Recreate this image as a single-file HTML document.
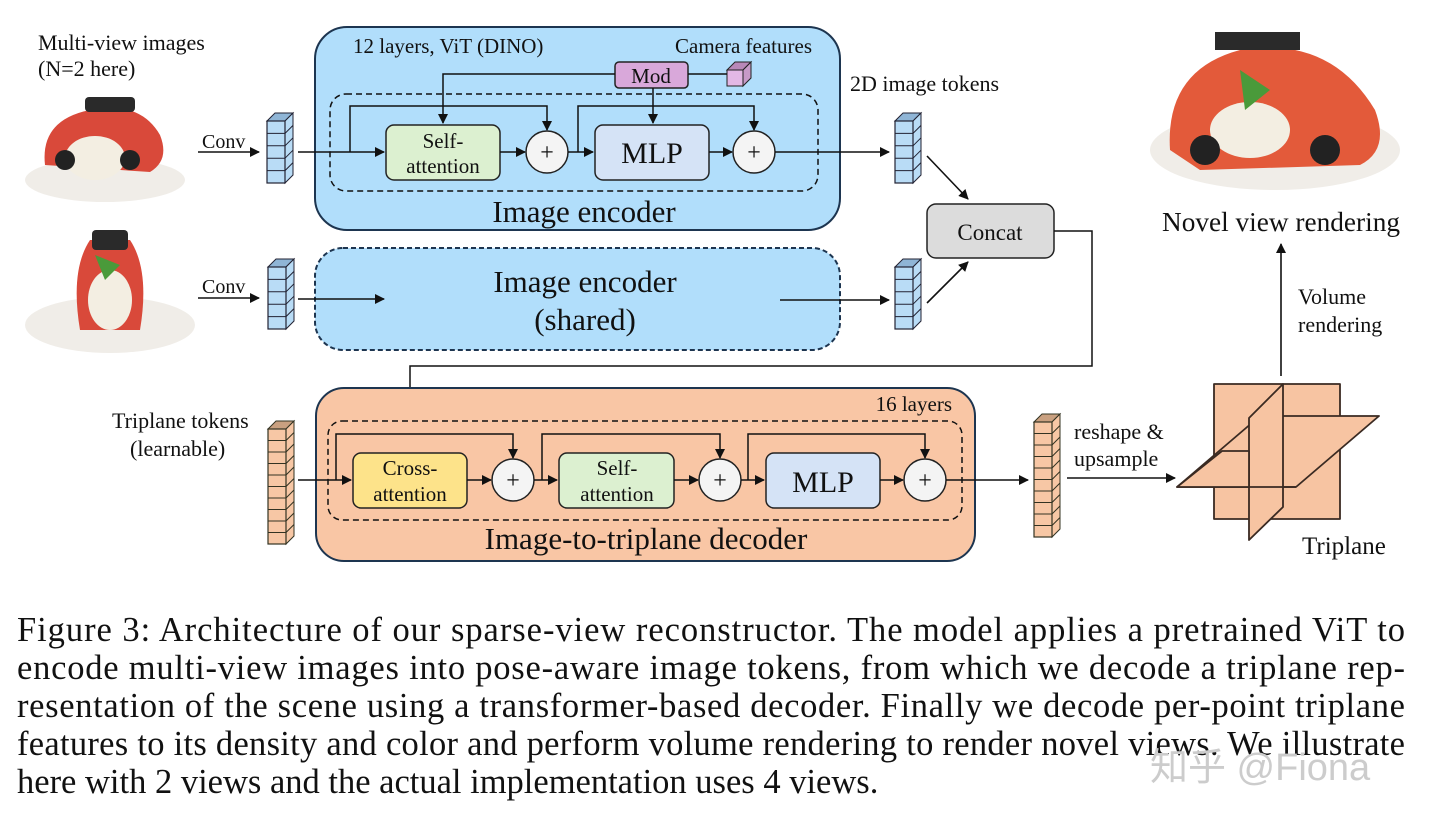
<!DOCTYPE html>
<html><head><meta charset="utf-8"><style>
html,body{margin:0;padding:0;background:#fff;width:1440px;height:826px;overflow:hidden}
svg text{font-family:"Liberation Serif",serif;fill:#111}
</style></head><body>
<svg width="1440" height="826" viewBox="0 0 1440 826" xmlns="http://www.w3.org/2000/svg">
<defs>
<marker id="a" markerWidth="10" markerHeight="10" refX="9" refY="5" orient="auto" markerUnits="userSpaceOnUse"><path d="M0,0 L10,5 L0,10 z" fill="#111"/></marker>
<g id="tok5">
 <path d="M0,0 l8,-8 h18 l-8,8 z" fill="#8fb5d6" stroke="#223" stroke-width="1"/>
 <path d="M18,0 l8,-8 v62 l-8,8 z" fill="#b9dcf6" stroke="#223" stroke-width="1"/>
 <rect x="0" y="0" width="18" height="62" fill="#b9dcf6" stroke="#223" stroke-width="1.2"/>
 <path d="M0,12.4h18M0,24.8h18M0,37.2h18M0,49.6h18M18,12.4l8,-8M18,24.8l8,-8M18,37.2l8,-8M18,49.6l8,-8" stroke="#223" fill="none"/>
</g>
<g id="tok10">
 <path d="M0,0 l8,-8 h18 l-8,8 z" fill="#c9a080" stroke="#332" stroke-width="1"/>
 <path d="M18,0 l8,-8 v115 l-8,8 z" fill="#f7c7a5" stroke="#332" stroke-width="1"/>
 <rect x="0" y="0" width="18" height="115" fill="#f7c7a5" stroke="#332" stroke-width="1.2"/>
 <path d="M0,11.5h18M0,23h18M0,34.5h18M0,46h18M0,57.5h18M0,69h18M0,80.5h18M0,92h18M0,103.5h18M18,11.5l8,-8M18,23l8,-8M18,34.5l8,-8M18,46l8,-8M18,57.5l8,-8M18,69l8,-8M18,80.5l8,-8M18,92l8,-8M18,103.5l8,-8" stroke="#332" fill="none"/>
</g>
</defs>

<text x="38" y="50" font-size="22">Multi-view images</text>
<text x="38" y="76" font-size="22">(N=2 here)</text>
<ellipse cx="105" cy="180" rx="80" ry="22" fill="#f0ede8"/>
<path d="M45,165 Q40,120 90,110 Q140,100 160,135 Q170,160 150,172 Z" fill="#d9493a"/>
<ellipse cx="95" cy="158" rx="30" ry="22" fill="#f3eee2"/>
<rect x="85" y="97" width="50" height="15" rx="4" fill="#2a2a2a"/>
<circle cx="65" cy="160" r="10" fill="#222"/><circle cx="130" cy="160" r="10" fill="#222"/>
<ellipse cx="110" cy="325" rx="85" ry="28" fill="#f0ede8"/>
<path d="M80,330 Q70,270 90,240 L130,240 Q150,270 140,330 Z" fill="#d9493a"/>
<ellipse cx="110" cy="300" rx="22" ry="30" fill="#f3eee2"/>
<rect x="92" y="230" width="36" height="20" rx="4" fill="#2a2a2a"/>
<path d="M95,255 l25,10 l-15,15 z" fill="#4a9a3a"/>
<ellipse cx="1275" cy="150" rx="125" ry="40" fill="#f0ede8"/>
<path d="M1170,150 Q1165,70 1240,50 Q1330,35 1375,110 Q1390,150 1360,165 L1200,170 Z" fill="#e35a3a"/>
<ellipse cx="1250" cy="130" rx="40" ry="28" fill="#f3eee2"/>
<path d="M1215,32 h85 v18 h-85 z" fill="#2a2a2a"/>
<circle cx="1205" cy="150" r="15" fill="#222"/><circle cx="1325" cy="150" r="15" fill="#222"/>
<path d="M1240,70 l30,20 l-25,20 z" fill="#4a9a3a"/>
<text x="1162" y="231" font-size="27" textLength="238" lengthAdjust="spacingAndGlyphs">Novel view rendering</text>

<text x="202" y="148" font-size="20">Conv</text>
<line x1="198" y1="152" x2="259" y2="152" stroke="#111" stroke-width="1.6" marker-end="url(#a)"/>
<text x="202" y="293" font-size="20">Conv</text>
<line x1="198" y1="298" x2="259" y2="298" stroke="#111" stroke-width="1.6" marker-end="url(#a)"/>
<use href="#tok5" x="267" y="121"/>
<use href="#tok5" x="268" y="267"/>

<rect x="315" y="27" width="525" height="203" rx="32" fill="#b1defb" stroke="#1d3550" stroke-width="2"/>
<text x="353" y="53" font-size="21">12 layers, ViT (DINO)</text>
<text x="675" y="53" font-size="21">Camera features</text>
<rect x="330" y="94" width="488" height="97" rx="16" fill="none" stroke="#111" stroke-width="1.5" stroke-dasharray="6,4"/>
<rect x="615" y="62" width="73" height="26" rx="4" fill="#d9a8da" stroke="#222" stroke-width="1.5"/>
<text x="651" y="83" font-size="21" text-anchor="middle">Mod</text>
<path d="M727,70 l8,-8 h16 l-8,8 z" fill="#b888b8" stroke="#222"/>
<path d="M743,70 l8,-8 v16 l-8,8 z" fill="#c79ac8" stroke="#222"/>
<rect x="727" y="70" width="16" height="16" fill="#e3b8e5" stroke="#222"/>
<line x1="688" y1="74" x2="727" y2="74" stroke="#111" stroke-width="1.5"/>
<polyline points="615,74 443,74 443,123" fill="none" stroke="#111" stroke-width="1.5" marker-end="url(#a)"/>
<line x1="653" y1="88" x2="653" y2="123" stroke="#111" stroke-width="1.5" marker-end="url(#a)"/>
<line x1="298" y1="152" x2="384" y2="152" stroke="#111" stroke-width="1.6" marker-end="url(#a)"/>
<polyline points="350,152 350,106 547,106 547,130" fill="none" stroke="#111" stroke-width="1.5" marker-end="url(#a)"/>
<rect x="386" y="125" width="114" height="55" rx="8" fill="#dcf0d0" stroke="#222" stroke-width="1.5"/>
<text x="443" y="148" font-size="21" text-anchor="middle">Self-</text>
<text x="443" y="173" font-size="21" text-anchor="middle">attention</text>
<line x1="500" y1="152" x2="525" y2="152" stroke="#111" stroke-width="1.6" marker-end="url(#a)"/>
<circle cx="547" cy="152" r="21" fill="#f4f4f4" stroke="#222" stroke-width="1.5"/>
<text x="547" y="160" font-size="24" text-anchor="middle">+</text>
<line x1="568" y1="152" x2="593" y2="152" stroke="#111" stroke-width="1.6" marker-end="url(#a)"/>
<polyline points="578,152 578,106 754,106 754,130" fill="none" stroke="#111" stroke-width="1.5" marker-end="url(#a)"/>
<rect x="595" y="125" width="114" height="55" rx="8" fill="#d5e3f6" stroke="#222" stroke-width="1.5"/>
<text x="652" y="163" font-size="30" text-anchor="middle">MLP</text>
<line x1="709" y1="152" x2="732" y2="152" stroke="#111" stroke-width="1.6" marker-end="url(#a)"/>
<circle cx="754" cy="152" r="21" fill="#f4f4f4" stroke="#222" stroke-width="1.5"/>
<text x="754" y="160" font-size="24" text-anchor="middle">+</text>
<line x1="775" y1="152" x2="889" y2="152" stroke="#111" stroke-width="1.6" marker-end="url(#a)"/>
<text x="584" y="222" font-size="31" text-anchor="middle">Image encoder</text>

<rect x="315" y="248" width="525" height="102" rx="28" fill="#b1defb" stroke="#1d3550" stroke-width="2" stroke-dasharray="5,3"/>
<text x="585" y="292" font-size="31" text-anchor="middle">Image encoder</text>
<text x="585" y="330" font-size="31" text-anchor="middle">(shared)</text>
<line x1="298" y1="299" x2="384" y2="299" stroke="#111" stroke-width="1.6" marker-end="url(#a)"/>
<line x1="780" y1="300" x2="889" y2="300" stroke="#111" stroke-width="1.6" marker-end="url(#a)"/>

<text x="850" y="91" font-size="22">2D image tokens</text>
<use href="#tok5" x="895" y="121"/>
<use href="#tok5" x="895" y="267"/>
<line x1="927" y1="156" x2="968" y2="199" stroke="#111" stroke-width="1.6" marker-end="url(#a)"/>
<line x1="927" y1="303" x2="968" y2="262" stroke="#111" stroke-width="1.6" marker-end="url(#a)"/>
<rect x="927" y="204" width="127" height="54" rx="9" fill="#dcdcdc" stroke="#222" stroke-width="1.5"/>
<text x="990" y="240" font-size="23" text-anchor="middle">Concat</text>
<polyline points="1054,231 1092,231 1092,366 410,366 410,453" fill="none" stroke="#111" stroke-width="1.5" marker-end="url(#a)"/>

<text x="112" y="428" font-size="22">Triplane tokens</text>
<text x="130" y="456" font-size="22">(learnable)</text>
<use href="#tok10" x="268" y="429"/>
<rect x="316" y="388" width="659" height="173" rx="28" fill="#f9c6a5" stroke="#1d3550" stroke-width="2"/>
<text x="952" y="411" font-size="21" text-anchor="end">16 layers</text>
<rect x="328" y="421" width="634" height="99" rx="14" fill="none" stroke="#111" stroke-width="1.5" stroke-dasharray="6,4"/>
<line x1="298" y1="480" x2="351" y2="480" stroke="#111" stroke-width="1.6" marker-end="url(#a)"/>
<polyline points="336,480 336,434 513,434 513,458" fill="none" stroke="#111" stroke-width="1.5" marker-end="url(#a)"/>
<rect x="353" y="453" width="114" height="55" rx="8" fill="#fde38a" stroke="#222" stroke-width="1.5"/>
<text x="410" y="475" font-size="21" text-anchor="middle">Cross-</text>
<text x="410" y="501" font-size="21" text-anchor="middle">attention</text>
<line x1="467" y1="480" x2="491" y2="480" stroke="#111" stroke-width="1.6" marker-end="url(#a)"/>
<circle cx="513" cy="480" r="21" fill="#f4f4f4" stroke="#222" stroke-width="1.5"/>
<text x="513" y="488" font-size="24" text-anchor="middle">+</text>
<line x1="534" y1="480" x2="557" y2="480" stroke="#111" stroke-width="1.6" marker-end="url(#a)"/>
<polyline points="542,480 542,434 720,434 720,458" fill="none" stroke="#111" stroke-width="1.5" marker-end="url(#a)"/>
<rect x="559" y="453" width="115" height="55" rx="8" fill="#dcf0d0" stroke="#222" stroke-width="1.5"/>
<text x="617" y="475" font-size="21" text-anchor="middle">Self-</text>
<text x="617" y="501" font-size="21" text-anchor="middle">attention</text>
<line x1="674" y1="480" x2="698" y2="480" stroke="#111" stroke-width="1.6" marker-end="url(#a)"/>
<circle cx="720" cy="480" r="21" fill="#f4f4f4" stroke="#222" stroke-width="1.5"/>
<text x="720" y="488" font-size="24" text-anchor="middle">+</text>
<line x1="741" y1="480" x2="764" y2="480" stroke="#111" stroke-width="1.6" marker-end="url(#a)"/>
<polyline points="748,480 748,434 925,434 925,458" fill="none" stroke="#111" stroke-width="1.5" marker-end="url(#a)"/>
<rect x="766" y="453" width="114" height="55" rx="8" fill="#d5e3f6" stroke="#222" stroke-width="1.5"/>
<text x="823" y="492" font-size="30" text-anchor="middle">MLP</text>
<line x1="880" y1="480" x2="903" y2="480" stroke="#111" stroke-width="1.6" marker-end="url(#a)"/>
<circle cx="925" cy="480" r="21" fill="#f4f4f4" stroke="#222" stroke-width="1.5"/>
<text x="925" y="488" font-size="24" text-anchor="middle">+</text>
<line x1="946" y1="480" x2="1028" y2="480" stroke="#111" stroke-width="1.6" marker-end="url(#a)"/>
<text x="646" y="549" font-size="31" text-anchor="middle">Image-to-triplane decoder</text>
<use href="#tok10" x="1034" y="422"/>

<text x="1074" y="439" font-size="22">reshape &amp;</text>
<text x="1074" y="466" font-size="22">upsample</text>
<line x1="1067" y1="478" x2="1175" y2="478" stroke="#111" stroke-width="1.6" marker-end="url(#a)"/>

<g stroke="#3a2a22" stroke-width="1.8" fill="#f7c4a2" stroke-linejoin="round">
<rect x="1214" y="384" width="126" height="135"/>
<polygon points="1177,487 1296,487 1379,416 1260,416"/>
<polygon points="1249,418 1283,384 1283,507 1249,540"/>
<polygon points="1177,487 1249,487 1249,451 1222,451"/>
</g>
<line x1="1249" y1="487" x2="1296" y2="487" stroke="#3a2a22" stroke-width="1.8"/>
<line x1="1281" y1="376" x2="1281" y2="244" stroke="#111" stroke-width="1.6" marker-end="url(#a)"/>
<text x="1298" y="304" font-size="22">Volume</text>
<text x="1298" y="332" font-size="22">rendering</text>
<text x="1302" y="554" font-size="25">Triplane</text>

<g font-size="34.5">
<text x="17" y="641" textLength="1388" lengthAdjust="spacing">Figure 3:  Architecture of our sparse-view reconstructor.  The model applies a pretrained ViT to</text>
<text x="17" y="679" textLength="1388" lengthAdjust="spacing">encode multi-view images into pose-aware image tokens, from which we decode a triplane rep-</text>
<text x="17" y="717" textLength="1388" lengthAdjust="spacing">resentation of the scene using a transformer-based decoder.  Finally we decode per-point triplane</text>
<text x="17" y="755" textLength="1388" lengthAdjust="spacing">features to its density and color and perform volume rendering to render novel views. We illustrate</text>
<text x="17" y="793">here with 2 views and the actual implementation uses 4 views.</text>
</g>
<text x="1150" y="780" font-size="38" style="fill:#ccc;font-family:'Liberation Sans','Noto Sans CJK SC',sans-serif">知乎 @Fiona</text>
</svg>
</body></html>
